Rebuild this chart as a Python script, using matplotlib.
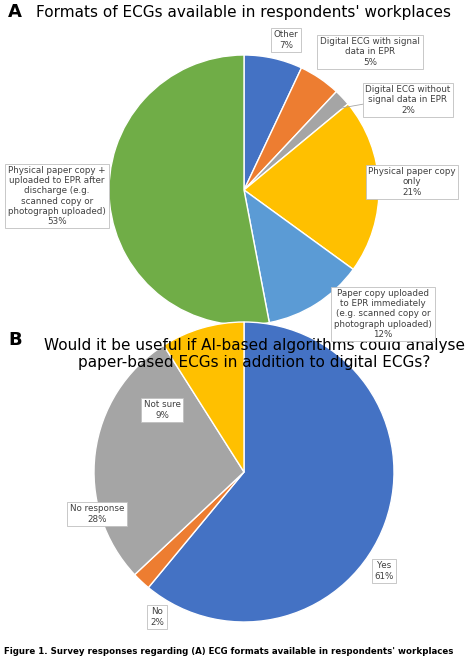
import matplotlib.pyplot as plt

W, H = 474, 657

# panel A data
fmt_labels = ["Other\n7%", "Digital ECG with signal\ndata in EPR\n5%",
              "Digital ECG without\nsignal data in EPR\n2%", "Physical paper copy\nonly\n21%",
              "Paper copy uploaded\nto EPR immediately\n(e.g. scanned copy or\nphotograph uploaded)\n12%",
              "Physical paper copy +\nuploaded to EPR after\ndischarge (e.g.\nscanned copy or\nphotograph uploaded)\n53%"]
fmt_values = [7, 5, 2, 21, 12, 53]
fmt_colors = ["#4472C4", "#ED7D31", "#A5A5A5", "#FFC000", "#5B9BD5", "#70AD47"]

# panel B data
ai_labels = ["Yes\n61%", "No\n2%", "No response\n28%", "Not sure\n9%"]
ai_values = [61, 2, 28, 9]
ai_colors = ["#4472C4", "#ED7D31", "#A5A5A5", "#FFC000"]

fig = plt.figure(figsize=(W / 100, H / 100), dpi=100)
fig.patch.set_facecolor("white")


def px_axes(cx, cy, r):
    return fig.add_axes([(cx - r) / W, 1 - (cy + r) / H, 2 * r / W, 2 * r / H])


def box(x, y, s):
    fig.text(x / W, 1 - y / H, s, ha="center", va="center", fontsize=6.3, color="#404040",
             linespacing=1.15, multialignment="center",
             bbox=dict(boxstyle="square,pad=0.3", fc="white", ec="#BFBFBF", lw=0.6))


def line(pts):
    xs = [p[0] / W for p in pts]
    ys = [1 - p[1] / H for p in pts]
    fig.add_artist(plt.Line2D(xs, ys, color="#A6A6A6", lw=0.6))


def pie(ax, values, colors):
    ax.pie(values, colors=colors, startangle=90, counterclock=False, radius=1,
           wedgeprops=dict(edgecolor="white", linewidth=1))
    ax.set_xlim(-1, 1)
    ax.set_ylim(-1, 1)
    ax.set_aspect("auto")
    ax.axis("off")


pie(px_axes(244, 190, 135), fmt_values, fmt_colors)
pie(px_axes(244, 472, 150), ai_values, ai_colors)

fig.text(8 / W, 1 - 12 / H, "A", fontsize=13, fontweight="bold", va="center")
fig.text(36 / W, 1 - 12 / H, "Formats of ECGs available in respondents' workplaces",
         fontsize=11, va="center")
fig.text(8 / W, 1 - 340 / H, "B", fontsize=13, fontweight="bold", va="center")
fig.text(254 / W, 1 - 354 / H,
         "Would it be useful if AI-based algorithms could analyse\npaper-based ECGs in addition to digital ECGs?",
         fontsize=11, va="center", ha="center", linespacing=1.2)

# panel A labels
box(286, 40, fmt_labels[0])
box(370, 52, fmt_labels[1])
box(408, 100, fmt_labels[2])
box(412, 182, fmt_labels[3])
box(383, 314, fmt_labels[4])
box(57, 196, fmt_labels[5])
line([(330, 110), (364, 104)])
line([(373, 190), (383, 190)])

# panel B labels
box(384, 571, ai_labels[0])
box(157, 617, ai_labels[1])
box(97, 514, ai_labels[2])
box(162, 410, ai_labels[3])

fig.text(4 / W, 1 - 651 / H, "Figure 1. Survey responses regarding (A) ECG formats available in respondents' workplaces",
         fontsize=6.2, fontweight="bold", va="center")

fig.savefig("out.png", dpi=100)
